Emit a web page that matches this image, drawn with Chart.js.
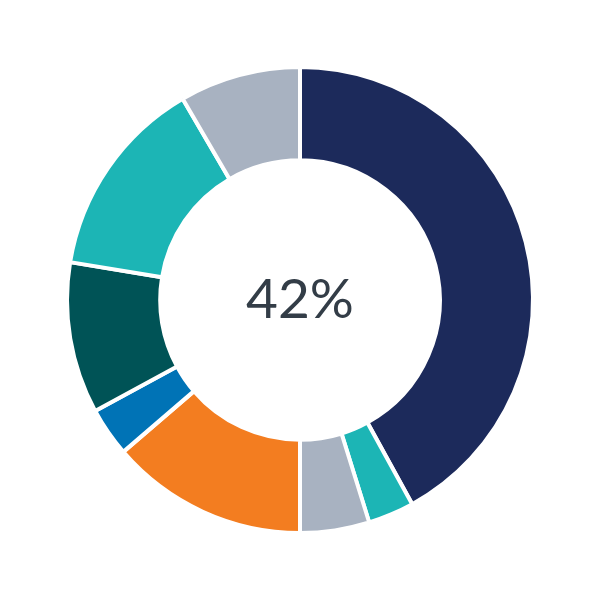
<!DOCTYPE html>
<html>
<head>
<meta charset="utf-8">
<script src="https://cdn.jsdelivr.net/npm/chart.js@4"></script>
<style>
  html, body { margin: 0; padding: 0; background: #fff; }
  #wrap { width: 600px; height: 600px; }
</style>
</head>
<body>
<div id="wrap"><canvas id="donut" width="600" height="600"></canvas></div>
<script>
const labels = ["A", "B", "C", "D", "E", "F", "G", "H"];
const values = [42, 3.2, 4.8, 13.7, 3.4, 10.5, 14, 8.4];
const colors = ["#1c2a5b", "#1cb5b5", "#a8b2c1", "#f37d20", "#0073b6", "#005356", "#1cb5b5", "#a8b2c1"];
const centerText = "42%";

// Center label
const centerLabel = {
  id: "centerLabel",
  afterDraw(chart) {
    const ctx = chart.ctx;
    const meta = chart.getDatasetMeta(0).data[0];
    ctx.save();
    ctx.font = "400 55px Lato";
    ctx.fillStyle = "#333d47";
    ctx.textAlign = "center";
    ctx.textBaseline = "middle";
    ctx.fillText(centerText, meta.x, meta.y);
    ctx.restore();
  }
};

const chart = new Chart(document.getElementById("donut").getContext("2d"), {
  type: "doughnut",
  data: {
    labels: labels,
    datasets: [{
      data: values,
      backgroundColor: colors,
      borderColor: "#ffffff",
      borderWidth: 4
    }]
  },
  options: {
    responsive: false,
    animation: false,
    cutout: "60%",
    layout: { padding: 65 },
    plugins: {
      legend: { display: false },
      tooltip: { enabled: false }
    }
  },
  plugins: [centerLabel]
});
</script>
</body>
</html>
